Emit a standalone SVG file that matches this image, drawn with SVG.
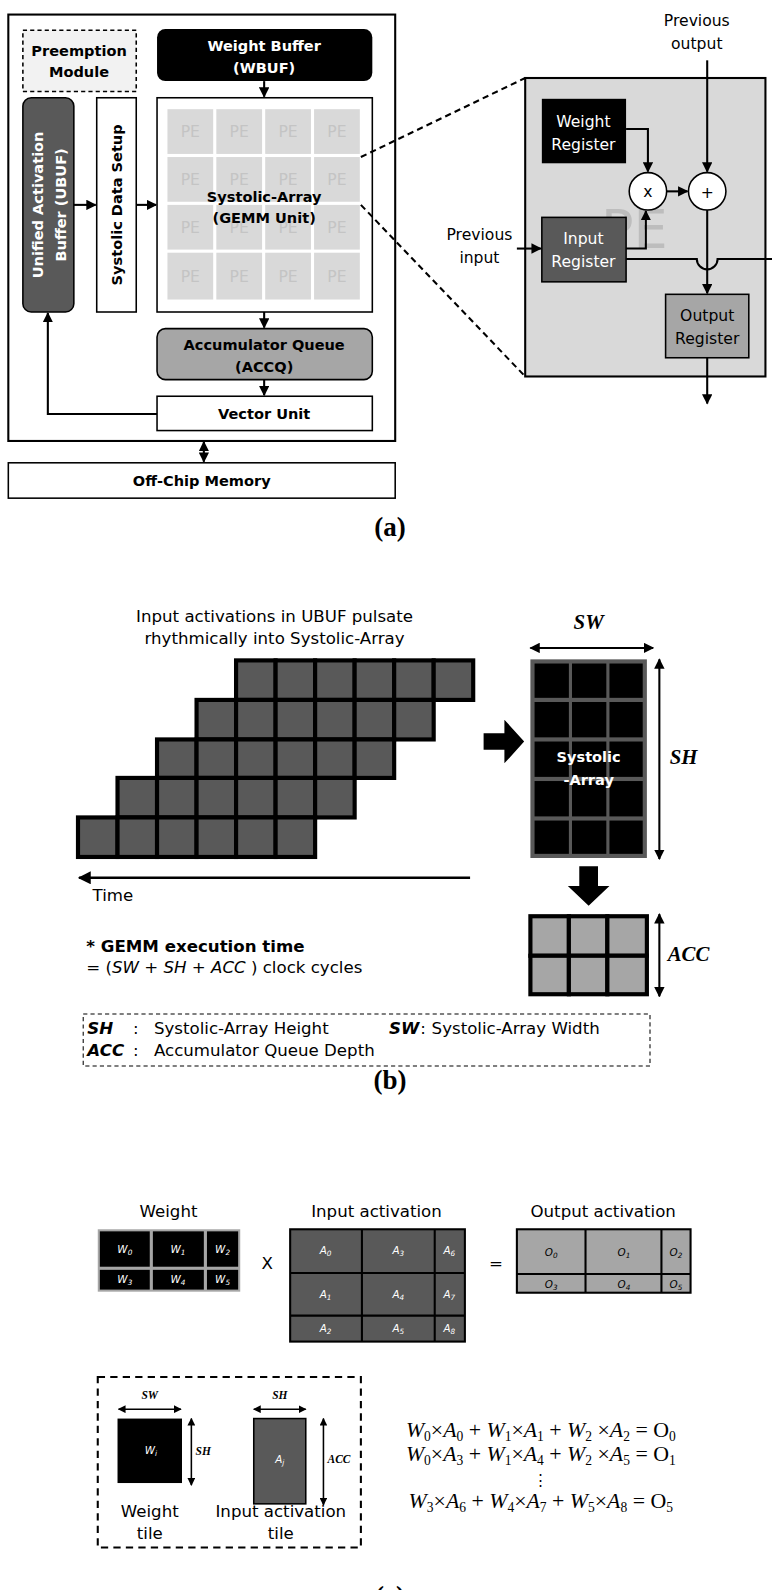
<svg xmlns="http://www.w3.org/2000/svg" width="772" height="1590" viewBox="0 0 772 1590">
<style>
.b{font-family:"DejaVu Sans",Verdana,sans-serif;font-weight:bold;font-size:14px;text-anchor:middle}
.r{font-family:"DejaVu Sans",Tahoma,sans-serif;font-size:15px;text-anchor:middle}
.t{font-family:"DejaVu Sans",Tahoma,sans-serif;font-size:16px}
.m{font-family:"Liberation Serif","Times New Roman",serif;font-style:italic;font-weight:bold;font-size:20px}
.eq{font-family:"Liberation Serif","Times New Roman",serif;font-size:21px;text-anchor:middle}
.lab{font-family:"Liberation Serif","Times New Roman",serif;font-weight:bold;font-size:26px;text-anchor:middle}
.pe{font-family:"DejaVu Sans",sans-serif;font-size:15px;fill:#c4c4c4;text-anchor:middle}
.ln{stroke:#000;stroke-width:2;fill:none}
.sm{font-family:"DejaVu Sans",sans-serif;font-style:italic;font-size:10px;text-anchor:middle}
.mt{font-family:"Liberation Serif",serif;font-weight:bold;font-style:italic;font-size:11px}
</style>
<defs>
<marker id="a" viewBox="0 0 10 10" refX="9" refY="5" markerWidth="5" markerHeight="5" orient="auto-start-reverse"><path d="M0,0L10,5L0,10z" fill="#000"/></marker>
</defs>
<rect width="772" height="1590" fill="#fff"/>
<g transform="scale(1.04)">
<!-- (a) -->
<g id="outer"><rect x="8" y="14" width="372" height="410" fill="#fff" stroke="#000" stroke-width="2"/></g>
<g id="preempt"><rect x="22" y="29" width="109" height="59" fill="#f2f2f2" stroke="#000" stroke-width="1.5" stroke-dasharray="4,3"/><text class="b" x="76" y="54">Preemption</text><text class="b" x="76" y="74">Module</text></g>
<g id="wbuf"><rect x="151" y="28" width="207" height="50" rx="8" fill="#000"/><text class="b" x="254" y="49" fill="#fff">Weight Buffer</text><text class="b" x="254" y="70" fill="#fff">(WBUF)</text></g>
<g id="ubuf"><rect x="22" y="94" width="49" height="206" rx="8" fill="#595959" stroke="#000" stroke-width="1.5"/><text class="b" fill="#fff" transform="translate(41,197) rotate(-90)">Unified Activation</text><text class="b" fill="#fff" transform="translate(63,197) rotate(-90)">Buffer (UBUF)</text></g>
<g id="setup"><rect x="93" y="94" width="38" height="206" fill="#fff" stroke="#000" stroke-width="1.5"/><text class="b" transform="translate(117,197) rotate(-90)">Systolic Data Setup</text></g>
<g id="array"><rect x="151" y="94" width="207" height="206" fill="#fff" stroke="#000" stroke-width="1.5"/>
<g fill="#d9d9d9">
<rect x="161" y="105" width="44" height="43"/><rect x="208" y="105" width="44" height="43"/><rect x="255" y="105" width="44" height="43"/><rect x="302" y="105" width="44" height="43"/>
<rect x="161" y="151" width="44" height="43"/><rect x="208" y="151" width="44" height="43"/><rect x="255" y="151" width="44" height="43"/><rect x="302" y="151" width="44" height="43"/>
<rect x="161" y="197" width="44" height="43"/><rect x="208" y="197" width="44" height="43"/><rect x="255" y="197" width="44" height="43"/><rect x="302" y="197" width="44" height="43"/>
<rect x="161" y="243" width="44" height="45"/><rect x="208" y="243" width="44" height="45"/><rect x="255" y="243" width="44" height="45"/><rect x="302" y="243" width="44" height="45"/>
</g>
<g class="pe">
<text x="183" y="132">PE</text><text x="230" y="132">PE</text><text x="277" y="132">PE</text><text x="324" y="132">PE</text>
<text x="183" y="178">PE</text><text x="230" y="178">PE</text><text x="277" y="178">PE</text><text x="324" y="178">PE</text>
<text x="183" y="224">PE</text><text x="230" y="224">PE</text><text x="277" y="224">PE</text><text x="324" y="224">PE</text>
<text x="183" y="271">PE</text><text x="230" y="271">PE</text><text x="277" y="271">PE</text><text x="324" y="271">PE</text>
</g>
<text class="b" x="254" y="194">Systolic-Array</text><text class="b" x="254" y="214">(GEMM Unit)</text></g>
<g id="accq"><rect x="151" y="316" width="207" height="49" rx="8" fill="#a6a6a6" stroke="#000" stroke-width="1.5"/><text class="b" x="254" y="337">Accumulator Queue</text><text class="b" x="254" y="358">(ACCQ)</text></g>
<g id="vector"><rect x="151" y="381" width="207" height="33" fill="#fff" stroke="#000" stroke-width="1.5"/><text class="b" x="254" y="403">Vector Unit</text></g>
<g id="offchip"><rect x="8" y="445" width="372" height="34" fill="#fff" stroke="#000" stroke-width="1.5"/><text class="b" x="194" y="467">Off-Chip Memory</text></g>

<g id="pe-detail"><rect x="505" y="75" width="231" height="287" fill="#d9d9d9" stroke="#000" stroke-width="2"/>
<text x="610" y="238" font-family="DejaVu Sans,sans-serif" font-size="52" fill="#bdbdbd" text-anchor="middle">PE</text></g>
<g id="wreg"><rect x="521" y="95" width="81" height="62" fill="#000"/><text class="r" x="561" y="122" fill="#fff">Weight</text><text class="r" x="561" y="144" fill="#fff">Register</text></g>
<g id="ireg"><rect x="521" y="209" width="81" height="62" fill="#595959" stroke="#000" stroke-width="1.5"/><text class="r" x="561" y="235" fill="#fff">Input</text><text class="r" x="561" y="257" fill="#fff">Register</text></g>
<g id="oreg"><rect x="640" y="283" width="80" height="61" fill="#a6a6a6" stroke="#000" stroke-width="1.5"/><text class="r" x="680" y="309">Output</text><text class="r" x="680" y="331">Register</text></g>
<g id="mul"><circle cx="623" cy="184" r="18" fill="#fff" stroke="#000" stroke-width="1.5"/><text class="r" x="623" y="189">x</text></g>
<g id="add"><circle cx="680" cy="184" r="18" fill="#fff" stroke="#000" stroke-width="1.5"/><text class="r" x="680" y="190">+</text></g>
<text class="r" x="670" y="25">Previous</text><text class="r" x="670" y="47">output</text>
<text class="r" x="461" y="231">Previous</text><text class="r" x="461" y="253">input</text>

<g id="connectors">
<line class="ln" x1="254" y1="78" x2="254" y2="93" marker-end="url(#a)"/>
<line class="ln" x1="71" y1="197" x2="92" y2="197" marker-end="url(#a)"/>
<line class="ln" x1="131" y1="197" x2="150" y2="197" marker-end="url(#a)"/>
<line class="ln" x1="254" y1="300" x2="254" y2="315" marker-end="url(#a)"/>
<line class="ln" x1="254" y1="365" x2="254" y2="380" marker-end="url(#a)"/>
<polyline class="ln" points="151,398 46,398 46,301" stroke-width="2.5" marker-end="url(#a)"/>
<line class="ln" x1="196" y1="425" x2="196" y2="444" marker-start="url(#a)" marker-end="url(#a)"/>
<line x1="347" y1="151" x2="505" y2="75" stroke="#000" stroke-width="2" stroke-dasharray="6,4"/>
<line x1="347" y1="197" x2="505" y2="362" stroke="#000" stroke-width="2" stroke-dasharray="6,4"/>
<line class="ln" stroke-width="1.5" x1="680" y1="58" x2="680" y2="165" marker-end="url(#a)"/>
<polyline class="ln" stroke-width="1.5" points="602,124 623,124 623,165" marker-end="url(#a)"/>
<polyline class="ln" stroke-width="1.5" points="602,239 621,239 621,203" marker-end="url(#a)"/>
<line class="ln" stroke-width="1.5" x1="641" y1="184" x2="661" y2="184" marker-end="url(#a)"/>
<line class="ln" stroke-width="1.5" x1="680" y1="202" x2="680" y2="282" marker-end="url(#a)"/>
<path class="ln" stroke-width="1.5" d="M602,249H670A10,10 0 0 0 690,249H745"/>
<line class="ln" stroke-width="1.5" x1="497" y1="239" x2="520" y2="239" marker-end="url(#a)"/>
<line class="ln" stroke-width="1.5" x1="680" y1="344" x2="680" y2="388" marker-end="url(#a)"/>
</g>
<text class="lab" x="375" y="515">(a)</text>

<!-- (b) -->
<text class="t" x="264" y="598" text-anchor="middle" font-size="17">Input activations in UBUF pulsate</text>
<text class="t" x="264" y="619" text-anchor="middle" font-size="17">rhythmically into Systolic-Array</text>
<g id="stair" fill="#595959" stroke="#000" stroke-width="4">
<g><rect x="227" y="635" width="38" height="38"/><rect x="265" y="635" width="38" height="38"/><rect x="303" y="635" width="38" height="38"/><rect x="341" y="635" width="38" height="38"/><rect x="379" y="635" width="38" height="38"/><rect x="417" y="635" width="38" height="38"/></g>
<g><rect x="189" y="673" width="38" height="38"/><rect x="227" y="673" width="38" height="38"/><rect x="265" y="673" width="38" height="38"/><rect x="303" y="673" width="38" height="38"/><rect x="341" y="673" width="38" height="38"/><rect x="379" y="673" width="38" height="38"/></g>
<g><rect x="151" y="711" width="38" height="37"/><rect x="189" y="711" width="38" height="37"/><rect x="227" y="711" width="38" height="37"/><rect x="265" y="711" width="38" height="37"/><rect x="303" y="711" width="38" height="37"/><rect x="341" y="711" width="38" height="37"/></g>
<g><rect x="113" y="748" width="38" height="38"/><rect x="151" y="748" width="38" height="38"/><rect x="189" y="748" width="38" height="38"/><rect x="227" y="748" width="38" height="38"/><rect x="265" y="748" width="38" height="38"/><rect x="303" y="748" width="38" height="38"/></g>
<g><rect x="75" y="786" width="38" height="38"/><rect x="113" y="786" width="38" height="38"/><rect x="151" y="786" width="38" height="38"/><rect x="189" y="786" width="38" height="38"/><rect x="227" y="786" width="38" height="38"/><rect x="265" y="786" width="38" height="38"/></g>
</g>
<line x1="452" y1="844" x2="76" y2="844" stroke="#000" stroke-width="2.5" marker-end="url(#a)"/>
<text class="t" x="89" y="866" font-size="17">Time</text>
<path d="M465,705H485V692L504,713L485,734V721H465Z" fill="#000"/>
<g id="sa">
<rect x="510" y="634" width="112" height="191" fill="#595959"/>
<g fill="#000">
<rect x="514" y="638" width="33" height="33"/><rect x="550" y="638" width="33" height="33"/><rect x="586" y="638" width="32" height="33"/>
<rect x="514" y="675" width="33" height="34"/><rect x="550" y="675" width="33" height="34"/><rect x="586" y="675" width="32" height="34"/>
<rect x="514" y="713" width="33" height="34"/><rect x="550" y="713" width="33" height="34"/><rect x="586" y="713" width="32" height="34"/>
<rect x="514" y="751" width="33" height="34"/><rect x="550" y="751" width="33" height="34"/><rect x="586" y="751" width="32" height="34"/>
<rect x="514" y="789" width="33" height="32"/><rect x="550" y="789" width="33" height="32"/><rect x="586" y="789" width="32" height="32"/>
</g>
<text class="b" x="566" y="733" fill="#fff" font-size="17">Systolic</text>
<text class="b" x="566" y="755" fill="#fff" font-size="17">-Array</text>
</g>
<line x1="510" y1="623" x2="628" y2="623" stroke="#000" stroke-width="2" marker-start="url(#a)" marker-end="url(#a)"/>
<text class="m" x="566" y="605" text-anchor="middle">SW</text>
<line x1="634" y1="634" x2="634" y2="826" stroke="#000" stroke-width="2" marker-start="url(#a)" marker-end="url(#a)"/>
<text class="m" x="644" y="735">SH</text>
<path d="M557,833H575V852H586L566,871L546,852H557Z" fill="#000"/>
<g id="accbox" stroke="#000" stroke-width="4" fill="#a6a6a6">
<rect x="510" y="881" width="37" height="38"/><rect x="547" y="881" width="37" height="38"/><rect x="584" y="881" width="38" height="38"/>
<rect x="510" y="919" width="37" height="37"/><rect x="547" y="919" width="37" height="37"/><rect x="584" y="919" width="38" height="37"/>
</g>
<line x1="634" y1="879" x2="634" y2="958" stroke="#000" stroke-width="2" marker-start="url(#a)" marker-end="url(#a)"/>
<text class="m" x="642" y="924">ACC</text>
<text class="t" x="83" y="915" font-weight="bold" font-size="17">* GEMM execution time</text>
<text class="t" x="83" y="936" font-size="17">= (<tspan font-style="italic">SW</tspan> + <tspan font-style="italic">SH</tspan> + <tspan font-style="italic">ACC</tspan> ) clock cycles</text>
<g id="legend"><rect x="80" y="975" width="545" height="50" fill="none" stroke="#000" stroke-dasharray="4,3"/>
<text class="t" x="84" y="994" font-weight="bold" font-style="italic">SH</text><text class="t" x="128" y="994">:</text><text class="t" x="148" y="994">Systolic-Array Height</text>
<text class="t" x="84" y="1015" font-weight="bold" font-style="italic">ACC</text><text class="t" x="128" y="1015">:</text><text class="t" x="148" y="1015">Accumulator Queue Depth</text>
<text class="t" x="374" y="994" font-weight="bold" font-style="italic">SW</text><text class="t" x="404" y="994">:</text><text class="t" x="415" y="994">Systolic-Array Width</text>
</g>
<text class="lab" x="375" y="1047">(b)</text>

<!-- (c) -->
<text class="t" x="162" y="1170" text-anchor="middle" font-size="17">Weight</text>
<text class="t" x="362" y="1170" text-anchor="middle" font-size="17">Input activation</text>
<text class="t" x="580" y="1170" text-anchor="middle" font-size="17">Output activation</text>
<g id="wmat">
<rect x="94" y="1182" width="137" height="60" fill="#a6a6a6"/>
<g fill="#000"><rect x="96" y="1184" width="48" height="34"/><rect x="147" y="1184" width="49" height="34"/><rect x="199" y="1184" width="30" height="34"/>
<rect x="96" y="1221" width="48" height="19"/><rect x="147" y="1221" width="49" height="19"/><rect x="199" y="1221" width="30" height="19"/></g>
<g class="sm" fill="#fff"><text x="120" y="1205">W<tspan font-size="7" dy="2">0</tspan></text><text x="171" y="1205">W<tspan font-size="7" dy="2">1</tspan></text><text x="214" y="1205">W<tspan font-size="7" dy="2">2</tspan></text>
<text x="120" y="1234">W<tspan font-size="7" dy="2">3</tspan></text><text x="171" y="1234">W<tspan font-size="7" dy="2">4</tspan></text><text x="214" y="1234">W<tspan font-size="7" dy="2">5</tspan></text></g>
</g>
<text class="t" x="257" y="1220" text-anchor="middle" font-size="17">X</text>
<g id="amat">
<rect x="279" y="1182" width="168" height="108" fill="#595959" stroke="#000" stroke-width="2"/>
<path d="M348,1182V1290M418,1182V1290M279,1224H447M279,1265H447" stroke="#000" stroke-width="2"/>
<g class="sm" fill="#fff"><text x="313" y="1206">A<tspan font-size="7" dy="2">0</tspan></text><text x="383" y="1206">A<tspan font-size="7" dy="2">3</tspan></text><text x="432" y="1206">A<tspan font-size="7" dy="2">6</tspan></text>
<text x="313" y="1248">A<tspan font-size="7" dy="2">1</tspan></text><text x="383" y="1248">A<tspan font-size="7" dy="2">4</tspan></text><text x="432" y="1248">A<tspan font-size="7" dy="2">7</tspan></text>
<text x="313" y="1281">A<tspan font-size="7" dy="2">2</tspan></text><text x="383" y="1281">A<tspan font-size="7" dy="2">5</tspan></text><text x="432" y="1281">A<tspan font-size="7" dy="2">8</tspan></text></g>
</g>
<text class="t" x="477" y="1220" text-anchor="middle" font-size="17">=</text>
<g id="omat">
<rect x="497" y="1182" width="167" height="61" fill="#a6a6a6" stroke="#000" stroke-width="2"/>
<path d="M563,1182V1243M636,1182V1243M497,1225H664" stroke="#000" stroke-width="2"/>
<g class="sm" fill="#000"><text x="530" y="1208">O<tspan font-size="7" dy="2">0</tspan></text><text x="600" y="1208">O<tspan font-size="7" dy="2">1</tspan></text><text x="650" y="1208">O<tspan font-size="7" dy="2">2</tspan></text>
<text x="530" y="1238">O<tspan font-size="7" dy="2">3</tspan></text><text x="600" y="1238">O<tspan font-size="7" dy="2">4</tspan></text><text x="650" y="1238">O<tspan font-size="7" dy="2">5</tspan></text></g>
</g>
<g id="tilebox">
<rect x="94" y="1324" width="253" height="164" fill="none" stroke="#000" stroke-width="2" stroke-dasharray="7,5"/>
<text class="mt" x="144" y="1345" text-anchor="middle">SW</text>
<line x1="114" y1="1355" x2="174" y2="1355" stroke="#000" stroke-width="1.5" marker-start="url(#a)" marker-end="url(#a)"/>
<rect x="113" y="1364" width="62" height="62" fill="#000"/>
<text class="sm" x="145" y="1398" fill="#fff">W<tspan font-size="7" dy="2">i</tspan></text>
<line x1="184" y1="1364" x2="184" y2="1428" stroke="#000" stroke-width="1.5" marker-start="url(#a)" marker-end="url(#a)"/>
<text class="mt" x="188" y="1399">SH</text>
<text class="mt" x="269" y="1345" text-anchor="middle">SH</text>
<line x1="244" y1="1355" x2="294" y2="1355" stroke="#000" stroke-width="1.5" marker-start="url(#a)" marker-end="url(#a)"/>
<rect x="244" y="1364" width="50" height="82" fill="#595959" stroke="#000" stroke-width="1.5"/>
<text class="sm" x="269" y="1407" fill="#fff">A<tspan font-size="7" dy="2">j</tspan></text>
<line x1="311" y1="1364" x2="311" y2="1447" stroke="#000" stroke-width="1.5" marker-start="url(#a)" marker-end="url(#a)"/>
<text class="mt" x="315" y="1407">ACC</text>
<text class="t" x="144" y="1459" text-anchor="middle" font-size="17">Weight</text><text class="t" x="144" y="1480" text-anchor="middle" font-size="17">tile</text>
<text class="t" x="270" y="1459" text-anchor="middle" font-size="17">Input activation</text><text class="t" x="270" y="1480" text-anchor="middle" font-size="17">tile</text>
</g>
<g id="eqs" class="eq">
<text x="520" y="1382"><tspan font-style="italic">W</tspan><tspan font-size="13" dy="4">0</tspan><tspan dy="-4">×</tspan><tspan font-style="italic">A</tspan><tspan font-size="13" dy="4">0</tspan><tspan dy="-4"> + </tspan><tspan font-style="italic">W</tspan><tspan font-size="13" dy="4">1</tspan><tspan dy="-4">×</tspan><tspan font-style="italic">A</tspan><tspan font-size="13" dy="4">1</tspan><tspan dy="-4"> + </tspan><tspan font-style="italic">W</tspan><tspan font-size="13" dy="4">2</tspan><tspan dy="-4"> ×</tspan><tspan font-style="italic">A</tspan><tspan font-size="13" dy="4">2</tspan><tspan dy="-4"> = O</tspan><tspan font-size="13" dy="4">0</tspan></text>
<text x="520" y="1405"><tspan font-style="italic">W</tspan><tspan font-size="13" dy="4">0</tspan><tspan dy="-4">×</tspan><tspan font-style="italic">A</tspan><tspan font-size="13" dy="4">3</tspan><tspan dy="-4"> + </tspan><tspan font-style="italic">W</tspan><tspan font-size="13" dy="4">1</tspan><tspan dy="-4">×</tspan><tspan font-style="italic">A</tspan><tspan font-size="13" dy="4">4</tspan><tspan dy="-4"> + </tspan><tspan font-style="italic">W</tspan><tspan font-size="13" dy="4">2</tspan><tspan dy="-4"> ×</tspan><tspan font-style="italic">A</tspan><tspan font-size="13" dy="4">5</tspan><tspan dy="-4"> = O</tspan><tspan font-size="13" dy="4">1</tspan></text>
<text x="520" y="1428" font-size="14">⋮</text>
<text x="520" y="1450"><tspan font-style="italic">W</tspan><tspan font-size="13" dy="4">3</tspan><tspan dy="-4">×</tspan><tspan font-style="italic">A</tspan><tspan font-size="13" dy="4">6</tspan><tspan dy="-4"> + </tspan><tspan font-style="italic">W</tspan><tspan font-size="13" dy="4">4</tspan><tspan dy="-4">×</tspan><tspan font-style="italic">A</tspan><tspan font-size="13" dy="4">7</tspan><tspan dy="-4"> + </tspan><tspan font-style="italic">W</tspan><tspan font-size="13" dy="4">5</tspan><tspan dy="-4">×</tspan><tspan font-style="italic">A</tspan><tspan font-size="13" dy="4">8</tspan><tspan dy="-4"> = O</tspan><tspan font-size="13" dy="4">5</tspan></text>
</g>
<text class="lab" x="375" y="1543">(c)</text>
</g>
</svg>
